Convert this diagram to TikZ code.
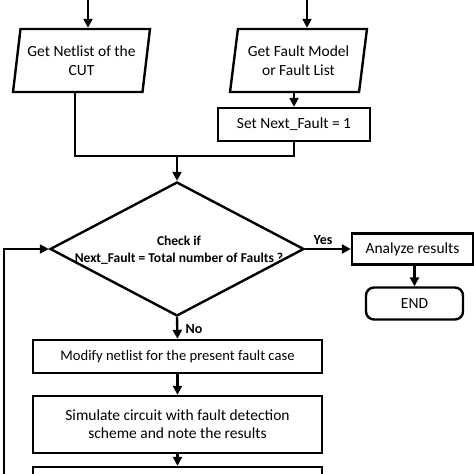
\documentclass[tikz,border=0pt]{standalone}
\usepackage{fontspec}
\setmainfont{Carlito}
\usetikzlibrary{arrows.meta,shapes.geometric}
\begin{document}
\begin{tikzpicture}[x=1pt,y=-1pt,
  line width=2.4pt,
  arr/.style={-{Triangle[length=9pt,width=9pt]}},
  para/.style={draw,trapezium,trapezium left angle=77.5,trapezium right angle=102.5,
    trapezium stretches=true,minimum width=137pt,minimum height=63pt,inner sep=0pt,
    align=center,font=\fontsize{15.5}{19}\selectfont},
  boxx/.style={draw,rectangle,inner sep=0pt,align=center,font=\fontsize{15.5}{18}\selectfont},
  lbl/.style={font=\bfseries\fontsize{14}{15}\selectfont,inner sep=0pt}]
\useasboundingbox (0,0) rectangle (474,474);
\clip (0,0) rectangle (474,474);
% top inputs
\node[para] (netlist) at (81.5,60.5) {Get Netlist of the\\CUT};
\node[para] (fmodel) at (298.5,60.5) {Get Fault Model\\or Fault List};
\coordinate (in1) at (88,-2);
\coordinate (in2) at (307,-2);
\draw[arr] (in1) -- (in1 |- netlist.north);
\draw[arr] (in2) -- (in2 |- fmodel.north);
\node[boxx,minimum width=152pt,minimum height=33pt] (setnf) at (294,124.5) {Set Next\_Fault = 1};
\draw[arr] (setnf.north |- fmodel.south) -- (setnf.north);
% diamond
\node[draw,diamond,minimum width=254pt,minimum height=134pt,inner sep=0pt] (check) at (177,249) {};
\node[align=center,inner sep=0pt,font=\bfseries\fontsize{13.5}{17}\selectfont] (checktxt) at (179,250) {Check if\\Next\_Fault = Total number of Faults ?};
\coordinate (join) at (177,156);
\draw (netlist.south -| 75,0) |- (join);
\draw (setnf.south) |- (join);
\draw[arr] (join) -- (check.north);
% yes branch
\node[boxx,minimum width=121pt,minimum height=31pt] (analyze) at (412.5,249) {Analyze results};
\node[boxx,rounded corners=8pt,minimum width=97pt,minimum height=32pt] (endn) at (414.5,303.5) {END};
\draw[arr] (check.east) -- (analyze.west);
\node[lbl] (yes) at (323,240) {Yes};
\draw[arr] (analyze.south -| endn.north) -- (endn.north);
% no branch
\node[boxx,minimum width=289pt,minimum height=33pt,font=\fontsize{14.6}{18}\selectfont] (modify) at (177.5,356.5) {Modify netlist for the present fault case};
\draw[arr] (check.south) -- (modify.north);
\node[lbl] (no) at (194,329) {No};
\node[boxx,minimum width=289pt,minimum height=57pt] (sim) at (177.5,424.5) {Simulate circuit with fault detection\\scheme and note the results};
\draw[arr] (modify.south) -- (sim.north);
\node[boxx,minimum width=289pt,minimum height=30pt] (nextb) at (177.5,482) {};
\draw[arr] (sim.south) -- (nextb.north);
% loop back
\coordinate (loopb) at (4,480);
\draw[arr] (loopb) |- (check.west);
\end{tikzpicture}
\end{document}
